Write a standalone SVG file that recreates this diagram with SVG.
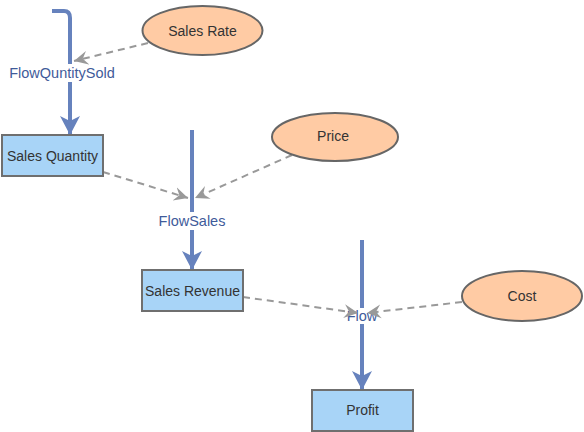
<svg xmlns="http://www.w3.org/2000/svg" width="584" height="432" viewBox="0 0 584 432">
<style>
.stock{fill:#a8d4f7;stroke:#6f6f6f;stroke-width:2}
.aux{fill:#ffcba4;stroke:#666;stroke-width:2}
.flow{fill:none;stroke:#6682bd;stroke-width:4}
.dep{fill:none;stroke:#999;stroke-width:2;stroke-dasharray:7,5}
.lbl{font-family:"Comic Sans MS","Liberation Sans",sans-serif;font-size:14px;fill:#333;text-anchor:middle;dominant-baseline:central}
.flbl{font-family:"Comic Sans MS","Liberation Sans",sans-serif;font-size:14.5px;fill:#3f5b9a;text-anchor:middle;dominant-baseline:central}
.bg{fill:#fff}
</style>
<defs>
<marker id="fa" markerWidth="20" markerHeight="20" viewBox="0 0 20 20" refX="18" refY="10" orient="auto" markerUnits="userSpaceOnUse">
<path d="M0,0 L19,10 L0,20 L5,10 Z" fill="#6682bd"/>
</marker>
<marker id="da" markerWidth="16" markerHeight="16" viewBox="0 0 16 16" refX="14" refY="8" orient="auto" markerUnits="userSpaceOnUse">
<path d="M0,1 L14,8 L0,15 L5,8 Z" fill="#999"/>
</marker>
</defs>
<g id="connectors">
<path class="flow" d="M52,11 H64 Q70,11 70,18 V134" marker-end="url(#fa)"/>
<path class="flow" d="M192,130 V269" marker-end="url(#fa)"/>
<path class="flow" d="M362,240 V389" marker-end="url(#fa)"/>
<rect class="bg" x="8" y="64" width="110" height="18"/>
<text class="flbl" x="62" y="73">FlowQuntitySold</text>
<rect class="bg" x="158" y="212" width="68" height="18"/>
<text class="flbl" x="192" y="221">FlowSales</text>
<rect class="bg" x="354" y="308" width="16" height="16"/>
<text class="flbl" x="362" y="316">Flow</text>
<path class="dep" d="M148,43 L74,61" marker-end="url(#da)"/>
<path class="dep" d="M103,172 L188,198" marker-end="url(#da)"/>
<path class="dep" d="M292,155 L195,198" marker-end="url(#da)"/>
<path class="dep" d="M243,297 L358,313" marker-end="url(#da)"/>
<path class="dep" d="M462,302 L367,313" marker-end="url(#da)"/>
</g>
<g id="sales-rate"><ellipse class="aux" cx="202.5" cy="30.5" rx="60" ry="24.5"/><text class="lbl" x="202.5" y="31">Sales Rate</text></g>
<g id="sales-quantity"><rect class="stock" x="2" y="135" width="101" height="41"/><text class="lbl" x="52.5" y="156">Sales Quantity</text></g>
<g id="price"><ellipse class="aux" cx="335" cy="137" rx="63" ry="24"/><text class="lbl" x="333" y="136">Price</text></g>
<g id="sales-revenue"><rect class="stock" x="142" y="270" width="101" height="41"/><text class="lbl" x="192.5" y="291">Sales Revenue</text></g>
<g id="cost"><ellipse class="aux" cx="522" cy="296" rx="60" ry="25"/><text class="lbl" x="522" y="296">Cost</text></g>
<g id="profit"><rect class="stock" x="312" y="390" width="101" height="41"/><text class="lbl" x="362.5" y="410">Profit</text></g>
</svg>
